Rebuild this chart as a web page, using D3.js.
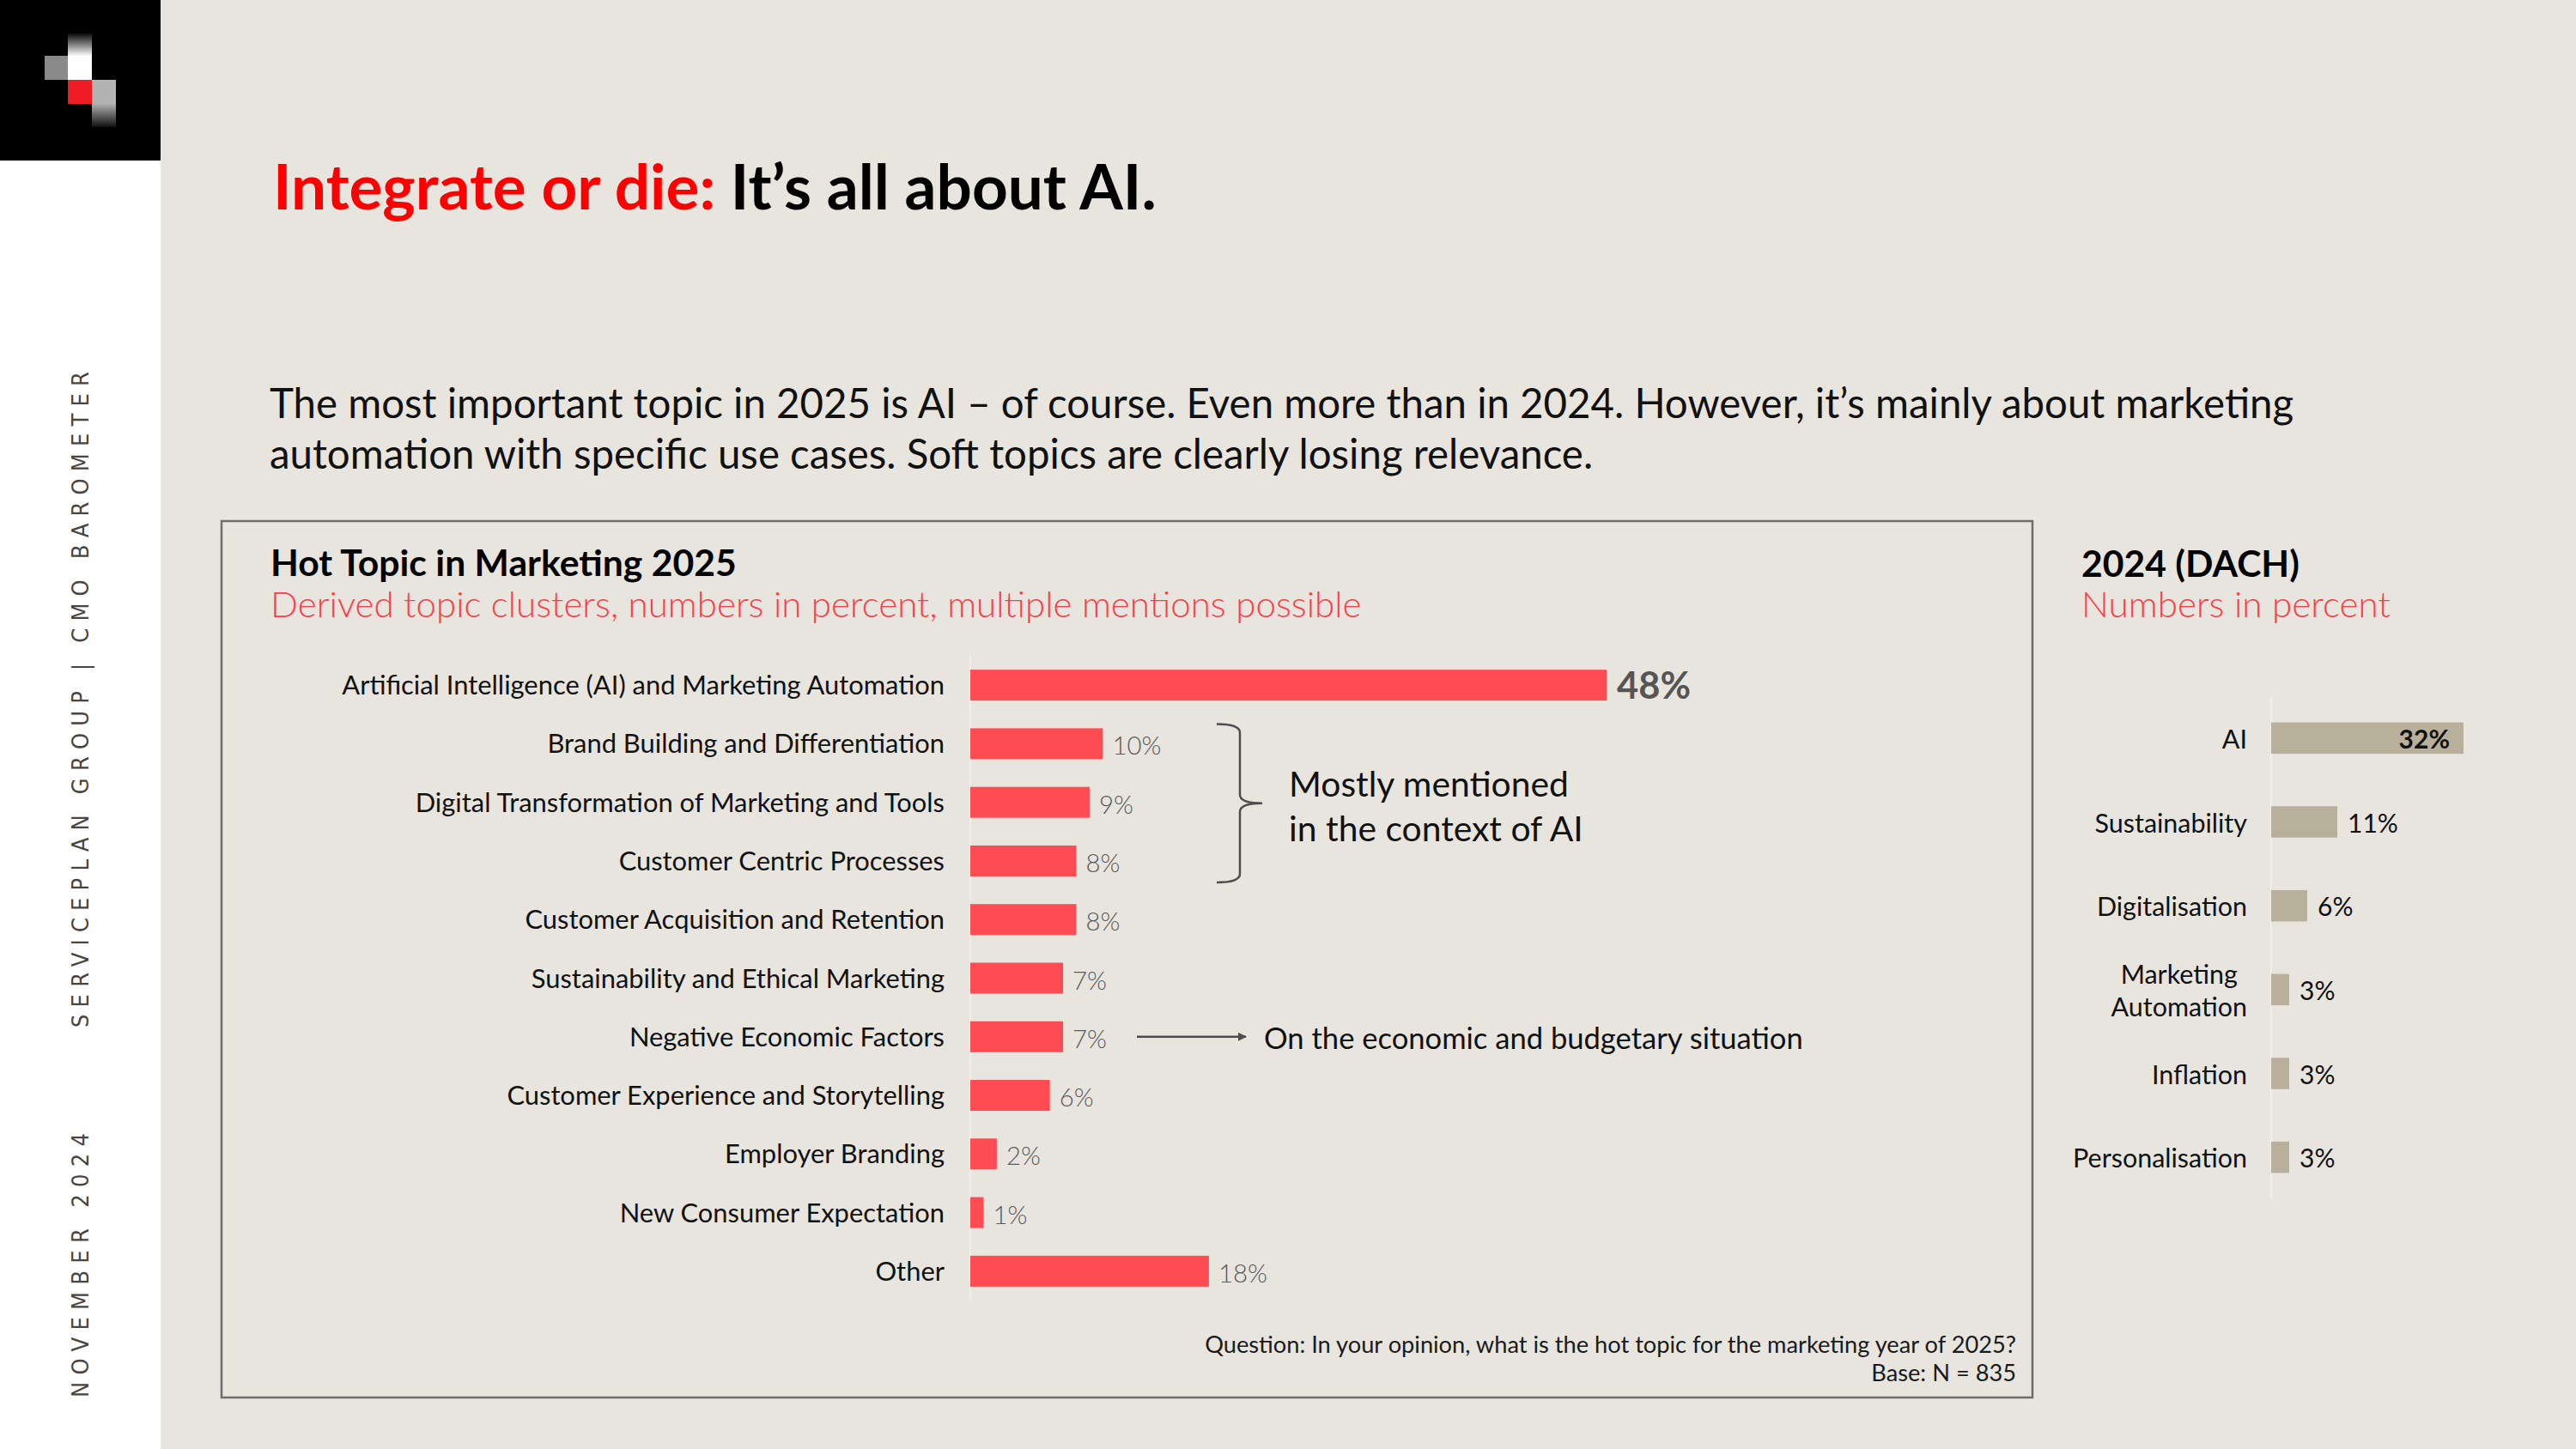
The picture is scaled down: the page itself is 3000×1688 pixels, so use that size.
<!DOCTYPE html>
<html>
<head>
<meta charset="utf-8">
<script src="https://cdn.jsdelivr.net/npm/d3@7"></script>
<style>
  html, body { margin: 0; padding: 0; background: #e8e5df; }
  svg { display: block; }
</style>
</head>
<body>
<svg id="chart" width="3000" height="1688"></svg>
<script>
// ---------- DATA ----------
const categories = [
  "Artificial Intelligence (AI) and Marketing Automation",
  "Brand Building and Differentiation",
  "Digital Transformation of Marketing and Tools",
  "Customer Centric Processes",
  "Customer Acquisition and Retention",
  "Sustainability and Ethical Marketing",
  "Negative Economic Factors",
  "Customer Experience and Storytelling",
  "Employer Branding",
  "New Consumer Expectation",
  "Other"
];
const values2025 = [48, 10, 9, 8, 8, 7, 7, 6, 2, 1, 18];

const categories2024 = ["AI", "Sustainability", "Digitalisation", "Marketing Automation", "Inflation", "Personalisation"];
const labelLines2024 = [["AI"], ["Sustainability"], ["Digitalisation"], ["Marketing", "Automation"], ["Inflation"], ["Personalisation"]];
const values2024 = [32, 11, 6, 3, 3, 3];

const titleRed = "Integrate or die: ";
const titleBlack = "It\u2019s all about AI.";
const introLines = [
  "The most important topic in 2025 is AI \u2013 of course. Even more than in 2024. However, it\u2019s mainly about marketing",
  "automation with specific use cases. Soft topics are clearly losing relevance."
];
const chartTitle = "Hot Topic in Marketing 2025";
const chartSubtitle = "Derived topic clusters, numbers in percent, multiple mentions possible";
const chart2Title = "2024 (DACH)";
const chart2Subtitle = "Numbers in percent";
const bracketNote = ["Mostly mentioned", "in the context of AI"];
const arrowNote = "On the economic and budgetary situation";
const footnotes = ["Question: In your opinion, what is the hot topic for the marketing year of 2025?", "Base: N = 835"];
const sideText1 = "SERVICEPLAN GROUP | CMO BAROMETER";
const sideText2 = "NOVEMBER 2024";

// ---------- STYLE ----------
const FONT = "Lato, 'Open Sans', sans-serif";
const RED = "#ff4b52";
const TAN = "#b9b09c";
const BG = "#e8e5df";

const svg = d3.select("#chart");

function fit(sel, w) {
  const cur = sel.node().getComputedTextLength();
  const fs = parseFloat(sel.attr("font-size"));
  const nfs = fs * w / cur;
  sel.attr("font-size", nfs);
  return nfs;
}

// background
svg.append("rect").attr("x", 0).attr("y", 0).attr("width", 3000).attr("height", 1688).attr("fill", BG);
// white sidebar
svg.append("rect").attr("x", 0).attr("y", 0).attr("width", 187).attr("height", 1688).attr("fill", "#ffffff");

// ---------- LOGO ----------
const defs = svg.append("defs");
const g1 = defs.append("linearGradient").attr("id", "gWhite").attr("x1", 0).attr("y1", 0).attr("x2", 0).attr("y2", 1);
g1.append("stop").attr("offset", "0%").attr("stop-color", "#000");
g1.append("stop").attr("offset", "50%").attr("stop-color", "#fff");
g1.append("stop").attr("offset", "100%").attr("stop-color", "#fff");
const g2 = defs.append("linearGradient").attr("id", "gGray").attr("x1", 0).attr("y1", 0).attr("x2", 0).attr("y2", 1);
g2.append("stop").attr("offset", "0%").attr("stop-color", "#b3b3b3");
g2.append("stop").attr("offset", "50%").attr("stop-color", "#b3b3b3");
g2.append("stop").attr("offset", "100%").attr("stop-color", "#111");

const logo = svg.append("g");
logo.append("rect").attr("x", 0).attr("y", 0).attr("width", 187).attr("height", 187).attr("fill", "#000");
logo.append("rect").attr("x", 52).attr("y", 65).attr("width", 27).attr("height", 28).attr("fill", "#8a8a8a");
logo.append("rect").attr("x", 79).attr("y", 38).attr("width", 28).attr("height", 55).attr("fill", "url(#gWhite)");
logo.append("rect").attr("x", 79).attr("y", 93).attr("width", 28).attr("height", 28).attr("fill", "#ee1c24");
logo.append("rect").attr("x", 107).attr("y", 93).attr("width", 28).attr("height", 55).attr("fill", "url(#gGray)");

// ---------- SIDEBAR TEXT ----------
const sideFont = "'Liberation Sans Narrow', 'DejaVu Sans Condensed', 'Roboto', sans-serif";
svg.append("text")
  .attr("transform", "translate(103,1197) rotate(-90)")
  .attr("font-family", sideFont).attr("font-weight", 300)
  .attr("font-size", 27).attr("fill", "#4a4540")
  .attr("textLength", 764).attr("lengthAdjust", "spacing")
  .text(sideText1);
svg.append("text")
  .attr("transform", "translate(103,1628) rotate(-90)")
  .attr("font-family", sideFont).attr("font-weight", 300)
  .attr("font-size", 27).attr("fill", "#4a4540")
  .attr("textLength", 308).attr("lengthAdjust", "spacing")
  .text(sideText2);

// ---------- TITLE ----------
const title = svg.append("text").attr("x", 318).attr("y", 244)
  .attr("font-family", FONT).attr("font-weight", 700).attr("font-size", 66);
title.append("tspan").attr("fill", "#ff0000").text(titleRed);
title.append("tspan").attr("fill", "#000").text(titleBlack);
fit(title, 1029);

// ---------- INTRO ----------
const intro1 = svg.append("text").attr("x", 314).attr("y", 487)
  .attr("font-family", FONT).attr("font-weight", 400).attr("font-size", 45).attr("fill", "#111").text(introLines[0]);
const introFs = fit(intro1, 2358);
svg.append("text").attr("x", 314).attr("y", 546)
  .attr("font-family", FONT).attr("font-weight", 400).attr("font-size", introFs).attr("fill", "#111").text(introLines[1]);

// ---------- BOX ----------
svg.append("rect").attr("x", 258).attr("y", 607).attr("width", 2109).attr("height", 1021)
  .attr("fill", "none").attr("stroke", "#6e6e6e").attr("stroke-width", 2.5);

// chart titles
const ct = svg.append("text").attr("x", 315).attr("y", 671)
  .attr("font-family", FONT).attr("font-weight", 700).attr("font-size", 40).attr("fill", "#000").text(chartTitle);
fit(ct, 543);
const cs = svg.append("text").attr("x", 315).attr("y", 719)
  .attr("font-family", FONT).attr("font-weight", 300).attr("font-size", 41).attr("fill", "#ff3b45").text(chartSubtitle);
fit(cs, 1271);

// ---------- LEFT CHART ----------
const x = d3.scaleLinear().domain([0, 48]).range([1130, 1871]);
const y = d3.scaleBand().domain(categories).range([764, 1515]).paddingInner(0.4727).paddingOuter(0.2364);
const bw = y.bandwidth();

// faint axis
svg.append("line").attr("x1", x(0)).attr("x2", x(0)).attr("y1", y.range()[0]).attr("y2", y.range()[1])
  .attr("stroke", "#f0eee9").attr("stroke-width", 2);

svg.append("g").selectAll("rect").data(categories).join("rect")
  .attr("x", x(0)).attr("y", d => y(d))
  .attr("width", (d, i) => x(values2025[i]) - x(0)).attr("height", bw)
  .attr("fill", RED);

// category labels
const labs = svg.append("g").selectAll("text").data(categories).join("text")
  .attr("x", 1100).attr("y", d => y(d) + bw / 2 + 11)
  .attr("text-anchor", "end")
  .attr("font-family", FONT).attr("font-weight", 400).attr("font-size", 28).attr("fill", "#111")
  .text(d => d);
{
  const n = labs.filter((d, i) => i === 0);
  const fs = fit(n, 702);
  labs.attr("font-size", fs);
}

// value labels
const vals = svg.append("g").selectAll("text").data(categories).join("text")
  .attr("x", (d, i) => x(values2025[i]) + (i === 0 ? 12 : 11))
  .attr("y", (d, i) => y(d) + bw / 2 + (i === 0 ? 16 : 13))
  .attr("font-family", FONT)
  .attr("font-weight", (d, i) => i === 0 ? 700 : 300)
  .attr("font-size", (d, i) => i === 0 ? 42 : 30)
  .attr("fill", (d, i) => i === 0 ? "#555" : "#5a5a5a")
  .text((d, i) => values2025[i] + "%");
{
  fit(vals.filter((d, i) => i === 0), 86);
  const fs = fit(vals.filter((d, i) => i === 1), 57);
  vals.filter((d, i) => i > 0).attr("font-size", fs);
}

// bracket annotation
{
  const top = y(categories[1]) - 5;
  const bot = y(categories[3]) + bw + 7;
  const mid = (top + bot) / 2;
  const bx = 1444, lx = 1417, tx = 1470, r = 10;
  const p = d3.path();
  p.moveTo(lx, top);
  p.quadraticCurveTo(bx, top, bx, top + r);
  p.lineTo(bx, mid - r);
  p.quadraticCurveTo(bx, mid, tx, mid);
  p.quadraticCurveTo(bx, mid, bx, mid + r);
  p.lineTo(bx, bot - r);
  p.quadraticCurveTo(bx, bot, lx, bot);
  svg.append("path").attr("d", p.toString()).attr("fill", "none").attr("stroke", "#4d4d4d").attr("stroke-width", 2.5);

  const b1 = svg.append("text").attr("x", 1501).attr("y", 928)
    .attr("font-family", FONT).attr("font-weight", 400).attr("font-size", 38).attr("fill", "#111").text(bracketNote[0]);
  const fs = fit(b1, 326);
  svg.append("text").attr("x", 1501).attr("y", 980)
    .attr("font-family", FONT).attr("font-weight", 400).attr("font-size", fs).attr("fill", "#111").text(bracketNote[1]);
}

// arrow annotation
{
  const yc = y(categories[6]) + bw / 2;
  defs.append("marker").attr("id", "arr").attr("viewBox", "0 0 10 10").attr("refX", 9).attr("refY", 5)
    .attr("markerWidth", 4).attr("markerHeight", 4).attr("orient", "auto")
    .append("path").attr("d", "M0,0 L10,5 L0,10 z").attr("fill", "#4d4d4d");
  svg.append("line").attr("x1", 1324).attr("x2", 1451).attr("y1", yc).attr("y2", yc)
    .attr("stroke", "#4d4d4d").attr("stroke-width", 2.5).attr("marker-end", "url(#arr)");
  const a = svg.append("text").attr("x", 1472).attr("y", yc + 14)
    .attr("font-family", FONT).attr("font-weight", 400).attr("font-size", 36).attr("fill", "#111").text(arrowNote);
  fit(a, 628);
}

// footnotes
{
  const f1 = svg.append("text").attr("x", 2348).attr("y", 1576).attr("text-anchor", "end")
    .attr("font-family", FONT).attr("font-weight", 400).attr("font-size", 25).attr("fill", "#1a1a1a").text(footnotes[0]);
  const fs = fit(f1, 945);
  svg.append("text").attr("x", 2348).attr("y", 1609).attr("text-anchor", "end")
    .attr("font-family", FONT).attr("font-weight", 400).attr("font-size", fs).attr("fill", "#1a1a1a").text(footnotes[1]);
}

// ---------- RIGHT CHART ----------
const t2 = svg.append("text").attr("x", 2424).attr("y", 672)
  .attr("font-family", FONT).attr("font-weight", 700).attr("font-size", 40).attr("fill", "#000").text(chart2Title);
fit(t2, 254);
const s2 = svg.append("text").attr("x", 2424).attr("y", 719)
  .attr("font-family", FONT).attr("font-weight", 300).attr("font-size", 41).attr("fill", "#ff3b45").text(chart2Subtitle);
fit(s2, 360);

const x2 = d3.scaleLinear().domain([0, 32]).range([2645, 2869]);
const y2 = d3.scaleBand().domain(categories2024).range([811, 1397]).paddingInner(0.626).paddingOuter(0.313);
const bw2 = y2.bandwidth();

svg.append("line").attr("x1", x2(0)).attr("x2", x2(0)).attr("y1", y2.range()[0]).attr("y2", y2.range()[1])
  .attr("stroke", "#f0eee9").attr("stroke-width", 2);

svg.append("g").selectAll("rect").data(categories2024).join("rect")
  .attr("x", x2(0)).attr("y", d => y2(d))
  .attr("width", (d, i) => x2(values2024[i]) - x2(0)).attr("height", bw2)
  .attr("fill", TAN);

// labels (multi-line centered block, right edge at 2617)
const lab2 = svg.append("g").selectAll("text").data(categories2024).join("text")
  .attr("font-family", FONT).attr("font-weight", 400).attr("font-size", 29).attr("fill", "#111");
let fs2 = 29;
{
  const tmp = svg.append("text").attr("font-family", FONT).attr("font-weight", 400).attr("font-size", 29).text(labelLines2024[5][0]);
  fs2 = fit(tmp, 203);
  tmp.remove();
}
lab2.attr("font-size", fs2).each(function(d, i) {
  const lines = labelLines2024[i];
  const el = d3.select(this);
  const yc = y2(d) + bw2 / 2;
  if (lines.length === 1) {
    el.attr("x", 2617).attr("y", yc + fs2 * 0.4).attr("text-anchor", "end").text(lines[0]);
  } else {
    const widths = lines.map(l => {
      const t = svg.append("text").attr("font-family", FONT).attr("font-size", fs2).text(l);
      const w = t.node().getComputedTextLength(); t.remove(); return w;
    });
    const maxW = Math.max(...widths);
    const cx = 2617 - maxW / 2;
    const lh = fs2 * 1.27;
    el.attr("text-anchor", "middle");
    lines.forEach((l, k) => {
      el.append("tspan").attr("x", cx).attr("y", yc + fs2 * 0.4 + (k - (lines.length - 1) / 2) * lh).text(l);
    });
  }
});

// value labels right
svg.append("g").selectAll("text").data(categories2024).join("text")
  .attr("x", (d, i) => i === 0 ? x2(values2024[i]) - 16 : x2(values2024[i]) + 12)
  .attr("y", d => y2(d) + bw2 / 2 + 12)
  .attr("text-anchor", (d, i) => i === 0 ? "end" : "start")
  .attr("font-family", FONT)
  .attr("font-weight", (d, i) => i === 0 ? 700 : 400)
  .attr("font-size", 30)
  .attr("fill", "#111")
  .text((d, i) => values2024[i] + "%");
</script>
</body>
</html>
